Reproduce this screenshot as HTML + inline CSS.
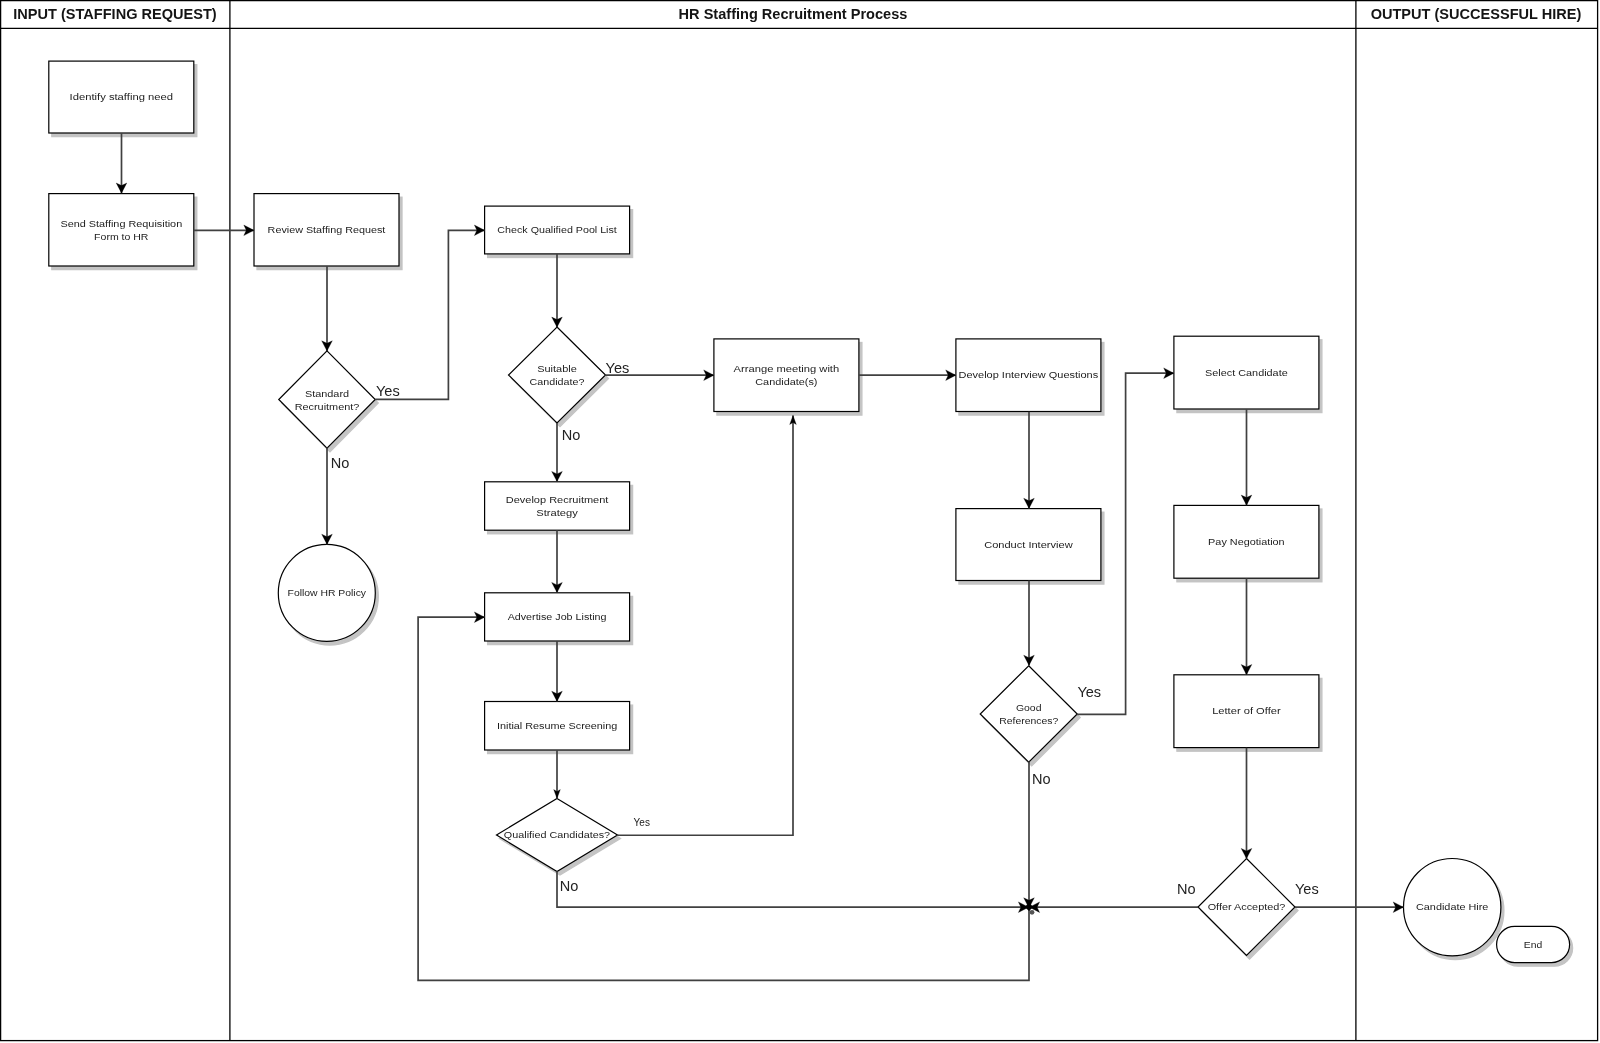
<!DOCTYPE html>
<html><head><meta charset="utf-8"><title>HR Staffing Recruitment Process</title>
<style>
html,body{margin:0;padding:0;background:#fff;width:1600px;height:1043px;overflow:hidden}
svg{display:block;position:absolute;left:0;top:0;will-change:transform}
.pool{fill:none;stroke:#000;stroke-width:1.3}
.sp{fill:#fff;stroke:#000;stroke-width:1.2}
.sh{fill:#c4c4c4;stroke:#c4c4c4;stroke-width:1.3}
.ln{fill:none;stroke:#404040;stroke-width:1.7;stroke-linejoin:miter}
.ah{fill:#000;stroke:#000;stroke-width:0.3}
.bt{font-family:"Liberation Sans",sans-serif;font-size:9.6px;fill:#1c1c1c}
.lb{font-family:"Liberation Sans",sans-serif;fill:#222}
.hd{font-family:"Liberation Sans",sans-serif;font-size:14.55px;font-weight:bold;fill:#141414}
</style></head>
<body>
<svg width="1600" height="1043" viewBox="0 0 1600 1043">
<rect x="0.6" y="0.6" width="1597" height="1040" class="pool"/>
<line x1="0" y1="28.4" x2="1598" y2="28.4" class="pool"/>
<line x1="229.9" y1="0" x2="229.9" y2="1041" class="pool"/>
<line x1="1355.9" y1="0" x2="1355.9" y2="1041" class="pool"/>
<text x="115" y="19.3" text-anchor="middle" class="hd">INPUT (STAFFING REQUEST)</text>
<text x="793" y="19.3" text-anchor="middle" class="hd">HR Staffing Recruitment Process</text>
<text x="1476" y="19.3" text-anchor="middle" class="hd">OUTPUT (SUCCESSFUL HIRE)</text>
<rect x="51.80" y="64.70" width="145.00" height="71.90" class="sh"/>
<rect x="48.80" y="61.10" width="145.00" height="71.90" class="sp"/>
<text x="121.30" y="100.05" text-anchor="middle" textLength="103.51" lengthAdjust="spacingAndGlyphs" class="bt">Identify staffing need</text>
<rect x="51.80" y="197.20" width="145.00" height="72.40" class="sh"/>
<rect x="48.80" y="193.60" width="145.00" height="72.40" class="sp"/>
<text x="121.30" y="226.80" text-anchor="middle" textLength="121.79" lengthAdjust="spacingAndGlyphs" class="bt">Send Staffing Requisition</text>
<text x="121.30" y="239.80" text-anchor="middle" textLength="54.37" lengthAdjust="spacingAndGlyphs" class="bt">Form to HR</text>
<rect x="257.00" y="197.20" width="145.00" height="72.40" class="sh"/>
<rect x="254.00" y="193.60" width="145.00" height="72.40" class="sp"/>
<text x="326.50" y="232.80" text-anchor="middle" textLength="117.76" lengthAdjust="spacingAndGlyphs" class="bt">Review Staffing Request</text>
<rect x="487.60" y="209.70" width="145.00" height="47.80" class="sh"/>
<rect x="484.60" y="206.10" width="145.00" height="47.80" class="sp"/>
<text x="557.10" y="233.00" text-anchor="middle" textLength="119.46" lengthAdjust="spacingAndGlyphs" class="bt">Check Qualified Pool List</text>
<rect x="487.60" y="485.40" width="145.00" height="48.40" class="sh"/>
<rect x="484.60" y="481.80" width="145.00" height="48.40" class="sp"/>
<text x="557.10" y="503.00" text-anchor="middle" textLength="102.62" lengthAdjust="spacingAndGlyphs" class="bt">Develop Recruitment</text>
<text x="557.10" y="516.00" text-anchor="middle" textLength="41.56" lengthAdjust="spacingAndGlyphs" class="bt">Strategy</text>
<rect x="487.60" y="596.40" width="145.00" height="48.20" class="sh"/>
<rect x="484.60" y="592.80" width="145.00" height="48.20" class="sp"/>
<text x="557.10" y="619.90" text-anchor="middle" textLength="98.91" lengthAdjust="spacingAndGlyphs" class="bt">Advertise Job Listing</text>
<rect x="487.60" y="705.10" width="145.00" height="48.50" class="sh"/>
<rect x="484.60" y="701.50" width="145.00" height="48.50" class="sp"/>
<text x="557.10" y="728.75" text-anchor="middle" textLength="120.25" lengthAdjust="spacingAndGlyphs" class="bt">Initial Resume Screening</text>
<rect x="716.90" y="342.50" width="145.00" height="72.60" class="sh"/>
<rect x="713.90" y="338.90" width="145.00" height="72.60" class="sp"/>
<text x="786.40" y="372.20" text-anchor="middle" textLength="105.59" lengthAdjust="spacingAndGlyphs" class="bt">Arrange meeting with</text>
<text x="786.40" y="385.20" text-anchor="middle" textLength="62.21" lengthAdjust="spacingAndGlyphs" class="bt">Candidate(s)</text>
<rect x="958.90" y="342.50" width="145.00" height="72.60" class="sh"/>
<rect x="955.90" y="338.90" width="145.00" height="72.60" class="sp"/>
<text x="1028.40" y="378.20" text-anchor="middle" textLength="139.64" lengthAdjust="spacingAndGlyphs" class="bt">Develop Interview Questions</text>
<rect x="958.90" y="512.20" width="145.00" height="71.90" class="sh"/>
<rect x="955.90" y="508.60" width="145.00" height="71.90" class="sp"/>
<text x="1028.40" y="547.55" text-anchor="middle" textLength="88.48" lengthAdjust="spacingAndGlyphs" class="bt">Conduct Interview</text>
<rect x="1176.90" y="339.80" width="145.00" height="72.80" class="sh"/>
<rect x="1173.90" y="336.20" width="145.00" height="72.80" class="sp"/>
<text x="1246.40" y="375.60" text-anchor="middle" textLength="82.60" lengthAdjust="spacingAndGlyphs" class="bt">Select Candidate</text>
<rect x="1176.90" y="509.00" width="145.00" height="72.80" class="sh"/>
<rect x="1173.90" y="505.40" width="145.00" height="72.80" class="sp"/>
<text x="1246.40" y="544.80" text-anchor="middle" textLength="76.52" lengthAdjust="spacingAndGlyphs" class="bt">Pay Negotiation</text>
<rect x="1176.90" y="678.40" width="145.00" height="72.80" class="sh"/>
<rect x="1173.90" y="674.80" width="145.00" height="72.80" class="sp"/>
<text x="1246.40" y="714.20" text-anchor="middle" textLength="68.55" lengthAdjust="spacingAndGlyphs" class="bt">Letter of Offer</text>
<polygon points="330.00,354.45 378.25,403.10 330.00,451.75 281.75,403.10" class="sh"/>
<polygon points="327.00,350.85 375.25,399.50 327.00,448.15 278.75,399.50" class="sp"/>
<text x="327.00" y="396.50" text-anchor="middle" textLength="44.13" lengthAdjust="spacingAndGlyphs" class="bt">Standard</text>
<text x="327.00" y="409.50" text-anchor="middle" textLength="64.75" lengthAdjust="spacingAndGlyphs" class="bt">Recruitment?</text>
<polygon points="560.00,330.60 608.50,378.60 560.00,426.60 511.50,378.60" class="sh"/>
<polygon points="557.00,327.00 605.50,375.00 557.00,423.00 508.50,375.00" class="sp"/>
<text x="557.00" y="372.00" text-anchor="middle" textLength="39.57" lengthAdjust="spacingAndGlyphs" class="bt">Suitable</text>
<text x="557.00" y="385.00" text-anchor="middle" textLength="54.74" lengthAdjust="spacingAndGlyphs" class="bt">Candidate?</text>
<polygon points="560.00,802.10 620.50,838.60 560.00,875.10 499.50,838.60" class="sh"/>
<polygon points="557.00,798.50 617.50,835.00 557.00,871.50 496.50,835.00" class="sp"/>
<text x="557.00" y="838.00" text-anchor="middle" textLength="106.23" lengthAdjust="spacingAndGlyphs" class="bt">Qualified Candidates?</text>
<polygon points="1031.70,669.35 1080.20,717.60 1031.70,765.85 983.20,717.60" class="sh"/>
<polygon points="1028.70,665.75 1077.20,714.00 1028.70,762.25 980.20,714.00" class="sp"/>
<text x="1028.70" y="711.00" text-anchor="middle" textLength="25.54" lengthAdjust="spacingAndGlyphs" class="bt">Good</text>
<text x="1028.70" y="724.00" text-anchor="middle" textLength="59.05" lengthAdjust="spacingAndGlyphs" class="bt">References?</text>
<polygon points="1249.50,862.10 1298.00,910.60 1249.50,959.10 1201.00,910.60" class="sh"/>
<polygon points="1246.50,858.50 1295.00,907.00 1246.50,955.50 1198.00,907.00" class="sp"/>
<text x="1246.50" y="910.00" text-anchor="middle" textLength="77.69" lengthAdjust="spacingAndGlyphs" class="bt">Offer Accepted?</text>
<circle cx="329.80" cy="596.50" r="48.50" class="sh"/>
<circle cx="326.80" cy="592.90" r="48.50" class="sp"/>
<text x="326.80" y="595.90" text-anchor="middle" textLength="78.53" lengthAdjust="spacingAndGlyphs" class="bt">Follow HR Policy</text>
<circle cx="1455.20" cy="910.80" r="48.70" class="sh"/>
<circle cx="1452.20" cy="907.20" r="48.70" class="sp"/>
<text x="1452.20" y="910.20" text-anchor="middle" textLength="72.40" lengthAdjust="spacingAndGlyphs" class="bt">Candidate Hire</text>
<rect x="1499.60" y="930.00" width="73.00" height="36.20" rx="18.10" class="sh"/>
<rect x="1496.60" y="926.40" width="73.00" height="36.20" rx="18.10" class="sp"/>
<text x="1533.10" y="947.50" text-anchor="middle" textLength="18.43" lengthAdjust="spacingAndGlyphs" class="bt">End</text>
<polyline class="ln" points="121.50,133.00 121.50,193.20"/>
<polygon class="ah" points="121.50,193.20 116.20,183.00 121.50,185.50 126.80,183.00"/>
<polyline class="ln" points="193.80,230.30 254.00,230.30"/>
<polygon class="ah" points="254.00,230.30 243.80,225.00 246.30,230.30 243.80,235.60"/>
<polyline class="ln" points="327.00,266.00 327.00,351.00"/>
<polygon class="ah" points="327.00,351.00 321.70,340.80 327.00,343.30 332.30,340.80"/>
<polyline class="ln" points="375.30,399.40 448.40,399.40 448.40,230.30 484.60,230.30"/>
<polygon class="ah" points="484.60,230.30 474.40,225.00 476.90,230.30 474.40,235.60"/>
<polyline class="ln" points="327.00,447.50 327.00,544.40"/>
<polygon class="ah" points="327.00,544.40 321.70,534.20 327.00,536.70 332.30,534.20"/>
<polyline class="ln" points="557.00,254.00 557.00,327.30"/>
<polygon class="ah" points="557.00,327.30 551.70,317.10 557.00,319.60 562.30,317.10"/>
<polyline class="ln" points="605.40,375.20 713.90,375.20"/>
<polygon class="ah" points="713.90,375.20 703.70,369.90 706.20,375.20 703.70,380.50"/>
<polyline class="ln" points="557.00,423.00 557.00,481.60"/>
<polygon class="ah" points="557.00,481.60 551.70,471.40 557.00,473.90 562.30,471.40"/>
<polyline class="ln" points="557.00,530.30 557.00,592.60"/>
<polygon class="ah" points="557.00,592.60 551.70,582.40 557.00,584.90 562.30,582.40"/>
<polyline class="ln" points="557.00,641.00 557.00,701.40"/>
<polygon class="ah" points="557.00,701.40 551.70,691.20 557.00,693.70 562.30,691.20"/>
<polyline class="ln" points="557.00,750.30 557.00,798.60"/>
<polygon class="ah" points="557.00,798.60 553.70,789.60 557.00,791.60 560.30,789.60"/>
<polyline class="ln" points="617.50,835.25 793.00,835.25 793.00,415.50"/>
<polygon class="ah" points="793.00,415.50 789.70,424.50 793.00,422.50 796.30,424.50"/>
<polyline class="ln" points="557.00,871.30 557.00,907.20 1028.60,907.20"/>
<polygon class="ah" points="1028.60,907.20 1018.40,901.90 1020.90,907.20 1018.40,912.50"/>
<polyline class="ln" points="858.90,375.20 955.90,375.20"/>
<polygon class="ah" points="955.90,375.20 945.70,369.90 948.20,375.20 945.70,380.50"/>
<polyline class="ln" points="1029.00,411.80 1029.00,508.50"/>
<polygon class="ah" points="1029.00,508.50 1023.70,498.30 1029.00,500.80 1034.30,498.30"/>
<polyline class="ln" points="1029.00,580.50 1029.00,665.40"/>
<polygon class="ah" points="1029.00,665.40 1023.70,655.20 1029.00,657.70 1034.30,655.20"/>
<polyline class="ln" points="1077.00,714.30 1125.60,714.30 1125.60,373.20 1173.90,373.20"/>
<polygon class="ah" points="1173.90,373.20 1163.70,367.90 1166.20,373.20 1163.70,378.50"/>
<polyline class="ln" points="1029.00,761.60 1029.00,908.00"/>
<polygon class="ah" points="1029.00,908.00 1023.70,897.80 1029.00,900.30 1034.30,897.80"/>
<polyline class="ln" points="1029.00,907.20 1029.00,980.35 418.10,980.35 418.10,617.20 484.60,617.20"/>
<polygon class="ah" points="484.60,617.20 474.40,611.90 476.90,617.20 474.40,622.50"/>
<polyline class="ln" points="1246.50,409.20 1246.50,505.30"/>
<polygon class="ah" points="1246.50,505.30 1241.20,495.10 1246.50,497.60 1251.80,495.10"/>
<polyline class="ln" points="1246.50,578.40 1246.50,674.70"/>
<polygon class="ah" points="1246.50,674.70 1241.20,664.50 1246.50,667.00 1251.80,664.50"/>
<polyline class="ln" points="1246.50,747.70 1246.50,858.60"/>
<polygon class="ah" points="1246.50,858.60 1241.20,848.40 1246.50,850.90 1251.80,848.40"/>
<polyline class="ln" points="1198.00,907.20 1029.40,907.20"/>
<polygon class="ah" points="1029.40,907.20 1039.60,901.90 1037.10,907.20 1039.60,912.50"/>
<circle cx="1032" cy="912.3" r="2.4" fill="#555"/>
<polygon points="1029,902.5 1033.2,907 1029,911 1024.8,907" fill="#000"/>
<polyline class="ln" points="1295.00,907.20 1403.40,907.20"/>
<polygon class="ah" points="1403.40,907.20 1393.20,901.90 1395.70,907.20 1393.20,912.50"/>
<text x="376.00" y="395.50" class="lb" style="font-size:14.55px">Yes</text>
<text x="330.70" y="468.00" class="lb" style="font-size:14.55px">No</text>
<text x="605.60" y="373.20" class="lb" style="font-size:14.55px">Yes</text>
<text x="561.80" y="440.20" class="lb" style="font-size:14.55px">No</text>
<text x="633.60" y="826.00" class="lb" style="font-size:10px">Yes</text>
<text x="559.80" y="890.80" class="lb" style="font-size:14.55px">No</text>
<text x="1077.40" y="697.00" class="lb" style="font-size:14.55px">Yes</text>
<text x="1032.00" y="783.50" class="lb" style="font-size:14.55px">No</text>
<text x="1177.00" y="893.60" class="lb" style="font-size:14.55px">No</text>
<text x="1295.00" y="893.80" class="lb" style="font-size:14.55px">Yes</text>
</svg>
</body></html>
